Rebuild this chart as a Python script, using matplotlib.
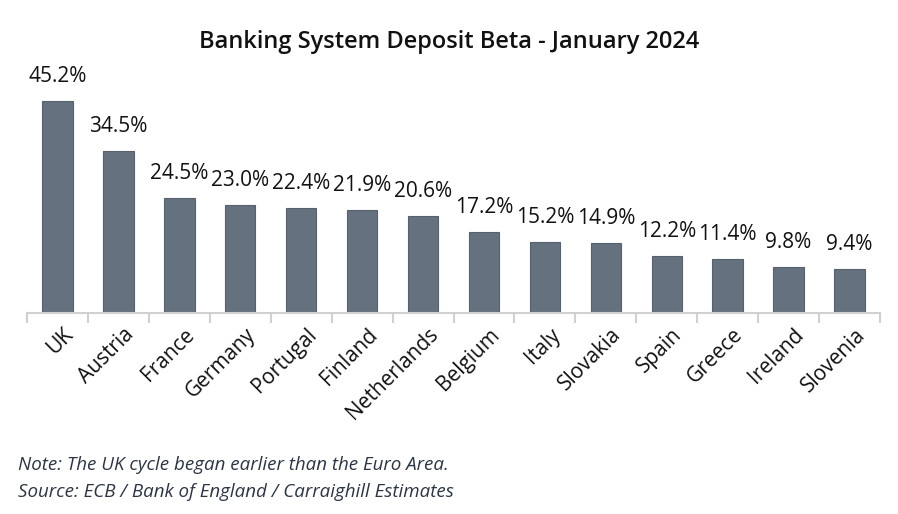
import matplotlib
matplotlib.use("Agg")
import numpy as np
import matplotlib.pyplot as plt

countries = ["UK", "Austria", "France", "Germany", "Portugal", "Finland",
             "Netherlands", "Belgium", "Italy", "Slovakia", "Spain",
             "Greece", "Ireland", "Slovenia"]
beta = [45.2, 34.5, 24.5, 23.0, 22.4, 21.9, 20.6, 17.2, 15.2, 14.9,
        12.2, 11.4, 9.8, 9.4]

title = "Banking System Deposit Beta - January 2024"
note = "Note: The UK cycle began earlier than the Euro Area."
source = "Source: ECB / Bank of England / Carraighill Estimates"

plt.rcParams['font.family'] = ['Open Sans', 'DejaVu Sans']

fig = plt.figure(figsize=(8.98, 5.14), dpi=100)
ax = fig.add_axes([27/898, 1 - 313/514, 853/898, 253/514])

x = np.arange(len(countries))
ax.bar(x, beta, width=0.5, color="#65717e", edgecolor="#56616d",
       linewidth=0.8, zorder=2)

for xi, v in zip(x, beta):
    ax.text(xi, v + 3.0, "{:.1f}%".format(v), ha="center", va="bottom",
            fontsize=15, color="#111111")

ax.set_xlim(-0.5, len(countries) - 0.5)
ax.set_ylim(0, 53.9)
ax.set_yticks([])
for s in ["left", "right", "top"]:
    ax.spines[s].set_visible(False)
ax.spines["bottom"].set_color("#d0d0d0")
ax.spines["bottom"].set_linewidth(1.5)

# tick marks sit between the categories
ax.set_xticks(np.arange(len(countries) + 1) - 0.5)
ax.set_xticklabels([])
ax.tick_params(axis="x", length=7, width=1.5, color="#d0d0d0", direction="out")
ax.set_xticks(x + 0.08, minor=True)
ax.set_xticklabels(countries, minor=True, rotation=45, ha="right",
                   rotation_mode="anchor", fontsize=15, color="#111111")
ax.tick_params(axis="x", which="minor", length=0, pad=8)

fig.text(449/898, 1 - 42/514, title, ha="center", va="center",
         fontsize=17, fontweight="semibold", color="#111111")
fig.text(18/898, 1 - 465/514, note, ha="left", va="center", fontsize=13.5,
         style="italic", color="#2b3544")
fig.text(18/898, 1 - 492/514, source, ha="left", va="center", fontsize=13.5,
         style="italic", color="#2b3544")

fig.savefig("out.png", dpi=100)
